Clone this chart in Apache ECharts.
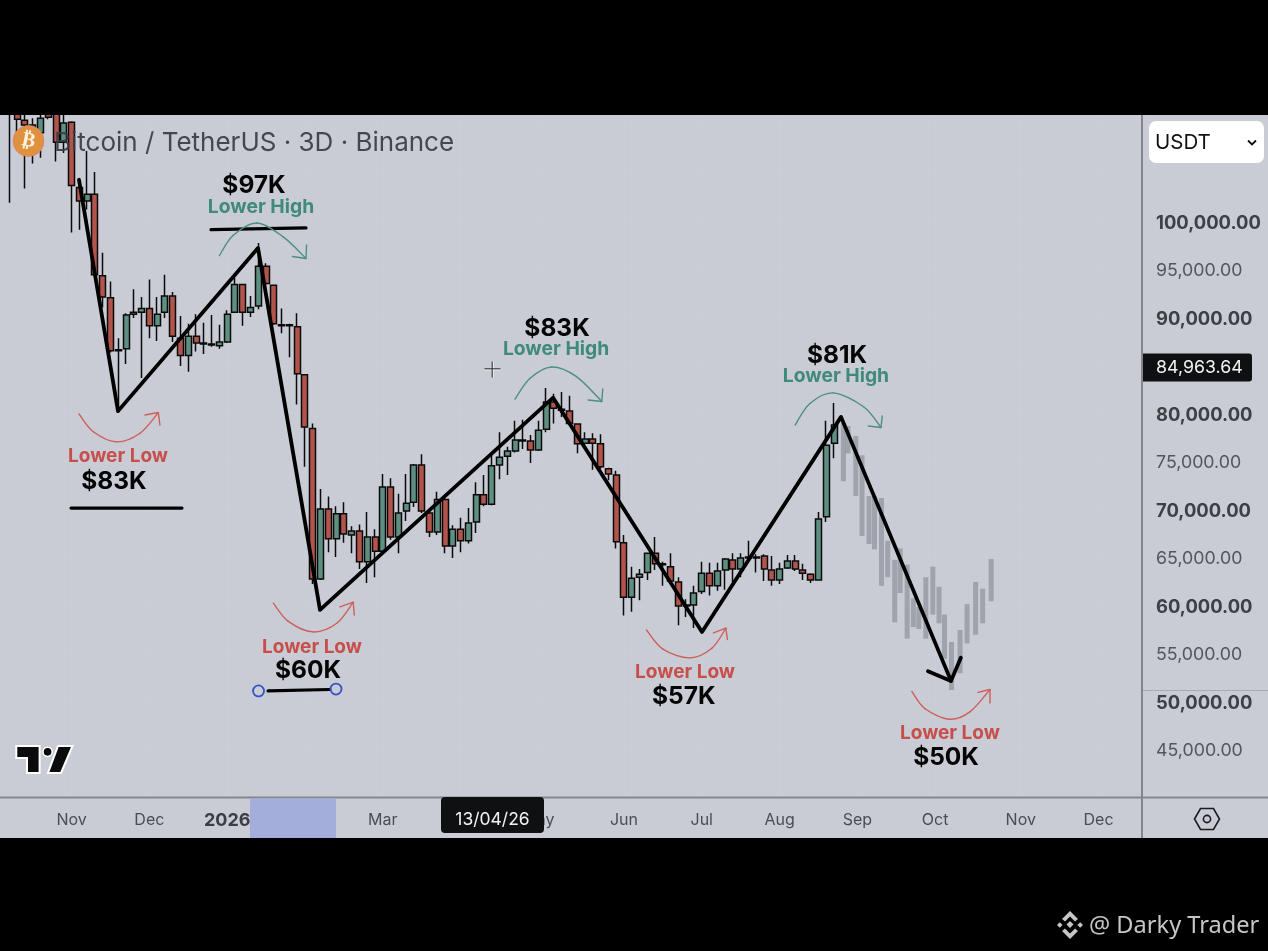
<!DOCTYPE html>
<html>
<head>
<meta charset="utf-8">
<style>html,body{margin:0;padding:0;background:#000;}#c{width:1268px;height:951px;}</style>
<script src="https://cdn.jsdelivr.net/npm/echarts@6/dist/echarts.min.js"></script>
</head>
<body>
<div id="c"></div>
<script>
// Candles, in thousands of USD, one every three days
const firstDate = '2025-10-06';
const openK  = [113,113,111.7,110.6,108.5,109.3,111.4,113,108.3,110.4,103.6,102.2,102.9,94.4,92.1,86.7,86.8,90.6,90.6,91.0,89.2,90.6,92.3,87.9,86.1,88.1,87.4,87.3,87.1,87.5,90.6,93.5,90.6,91.25,95.4,93.4,89.3,89.3,89.1,84.1,78.5,62.8,70.1,67.0,69.6,67.4,67.8,64.6,67.2,65.7,72.4,67.2,69.9,70.8,74.7,69.7,67.7,71.1,66.25,68.0,66.8,68.75,71.6,70.6,74.7,75.6,76.15,77.2,77.2,76.25,78.4,81.25,80.5,80.3,78.95,76.95,77.4,76.9,74.3,73.65,66.6,60.9,63.0,63.5,65.5,64.4,64.1,62.5,60.0,60.1,61.5,63.4,62.1,63.75,64.8,63.85,65.0,65.1,65.2,63.75,62.7,63.95,64.7,63.75,63.3,62.7,69.3,76.95];
const closeK = [112.5,112.2,110.7,110.1,110.1,110.8,110.9,108.3,110.3,103.8,102.2,102.9,94.5,92.2,86.6,86.6,90.3,90.4,91.0,89.2,90.4,92.3,88.1,86.1,88.1,87.4,87.3,87.2,87.5,90.4,93.5,90.6,91.1,95.4,93.6,89.4,89.2,89.2,84.2,78.65,62.8,70.1,67.0,69.6,67.5,67.8,64.6,67.2,65.7,72.4,67.2,69.7,70.7,74.7,69.9,67.7,71.1,66.25,68.0,66.8,68.65,71.6,70.6,74.6,75.5,76.15,77.3,77.3,76.25,78.3,81.25,80.6,80.4,79.0,76.9,77.4,76.95,74.5,73.75,66.7,60.9,62.9,63.3,65.5,64.4,64.3,62.6,60.0,60.1,61.35,63.4,62.1,63.65,64.9,63.85,65.0,65.1,65.0,63.85,62.7,63.85,64.7,63.85,63.4,62.7,69.05,76.75,78.85];
const lowK   = [112,102.0,109.1,103.5,106.1,106.7,110.7,106.3,107.2,98.9,99.2,101.3,94.4,91.1,86.4,80.6,85.2,90.0,83.75,87.9,87.6,90.0,87.5,85.0,84.4,86.5,86.25,87.0,86.8,87.4,90.6,89.2,90.1,90.9,93.4,89.3,88.4,85.9,81.0,74.5,62.3,62.7,65.6,65.1,66.6,65.5,63.85,62.4,63.0,65.6,66.9,65.5,68.85,70.3,69.7,67.2,67.4,65.5,65.0,65.6,66.5,67.6,70.4,70.5,73.2,73.65,76.0,76.35,74.9,76.15,78.1,79.0,79.7,78.85,75.9,76.8,74.2,74.3,73.1,66.0,59.0,59.4,60.6,62.7,63.75,62.1,62.5,58.0,58.85,57.7,61.25,61.1,61.6,61.7,62.5,63.0,64.9,63.5,62.6,62.1,62.3,63.85,63.65,62.7,62.4,62.7,68.75,75.4];
const highK  = [114,114,113,112,110.8,112,112.5,114,112,110.5,103.9,107.4,105.2,96.8,93.8,87.9,90.5,93.0,92.2,94.0,92.2,94.5,92.7,90.2,89.4,90.4,89.5,90.3,89.3,90.8,94.2,93.5,92.3,97.8,95.7,93.4,91.0,89.4,90.5,84.1,79.0,72.2,71.4,70.4,70.8,68.3,68.5,69.8,68.0,73.75,73.3,71.7,73.75,74.8,75.8,69.9,71.9,71.4,68.4,69.2,70.2,72.9,73.65,75.7,78.1,76.6,79.3,79.4,77.8,79.3,82.7,82.1,82.3,81.9,79.0,78.1,78.0,77.9,74.4,74.1,67.4,64.1,63.85,65.5,67.2,64.6,65.5,63.0,60.7,62.1,64.6,64.5,64.5,65.0,65.5,65.5,66.8,65.4,65.4,65.2,64.5,65.3,65.3,64.4,63.4,69.8,79.3,81.15];

// Projected path (grey bars): position in candle units, top and bottom in thousands of USD
const ghostPos = [108.2,108.8,109.8,110.6,111.5,112.2,113.1,113.9,114.8,115.5,116.4,117.2,117.9,118.8,119.7,120.5,121.2,122.1,123.2,124.1,125.2,126.1,127.2];
const ghostTop = [79.06,78.75,77.7,75.7,71.45,71.45,71.25,66.8,64.8,66.0,64.3,60.8,59.9,63.0,64.1,62.0,59.1,56.25,57.5,60.2,62.5,61.8,64.9];
const ghostBot = [73.0,75.9,71.45,67.3,66.45,65.9,62.1,63.0,58.3,61.35,56.6,57.8,57.6,56.6,59.1,58.2,54.5,51.25,53.0,56.1,57.0,58.2,60.5];

// Zigzag pivots
const pivotPos = [9.95,14.97,32.96,40.93,70.9,90.03,107.9,122.04];
const pivotK   = [104.4,80.3,97.3,59.6,81.7,57.3,79.7,52.2];
const arrowPos = [119.08,122.04,123.3];
const arrowK   = [53.2,52.2,54.6];

// Underlines and end handles
const underlines = [
  [[26.92,99.2],[39.13,99.38]],
  [[8.93,70.2],[23.19,70.2]],
  [[34.25,51.15],[42.2,51.3]]
];
const handles = [[33.03,51.15],[42.99,51.35]];

// Hand-drawn arcs and their arrow heads
const redArcs = [
  [[9.95,80.0],[11.8,78.15],[14.8,77.1],[17.8,78.0],[20.15,80.15]],
  [[34.93,60.3],[36.86,58.4],[40.07,57.3],[43.08,58.2],[45.2,60.4]],
  [[82.9,57.5],[85.0,55.5],[88.5,54.6],[91.3,55.6],[93.1,57.7]],
  [[117.0,51.1],[118.7,49.3],[121.9,48.2],[124.5,49.0],[127.05,51.3]]
];
const redHeads = [
  [[18.44,79.9],[20.15,80.15],[20.36,78.85]],
  [[43.5,59.9],[45.2,60.4],[45.34,59.06]],
  [[91.5,57.2],[93.1,57.7],[93.3,56.5]],
  [[125.5,51.0],[127.05,51.3],[127.05,49.9]]
];
const greenArcs = [
  [[28.0,96.5],[29.75,98.6],[32.8,99.9],[36.2,98.45],[39.13,96.2]],
  [[66.0,81.56],[67.9,83.7],[70.7,84.9],[73.9,83.9],[77.15,81.3]],
  [[102.0,78.85],[103.9,81.1],[106.9,82.2],[110.8,80.75],[113.04,78.6]]
];
const greenHeads = [
  [[37.4,96.4],[39.13,96.2],[39.2,97.6]],
  [[75.4,81.46],[77.15,81.3],[77.27,82.6]],
  [[111.4,78.75],[113.04,78.6],[113.2,79.8]]
];

// Notes
const priceNotes = [['$97K',32.45,103.85],['$83K',14.45,73.1],['$60K',39.4,53.4],['$83K',71.4,88.96],['$57K',87.7,50.7],['$81K',107.4,86.15],['$50K',121.4,44.3]];
const highNotes  = [['Lower High',33.35,101.56],['Lower High',71.27,86.7],['Lower High',107.25,83.96]];
const lowNotes   = [['Lower Low',14.97,75.6],['Lower Low',39.9,55.8],['Lower Low',87.85,53.1],['Lower Low',121.9,46.8]];

// Axis labels
const monthIndex  = [9,19,29,39,49,59,69,80,90,100,110,120,131,141];
const monthLabels = ['Nov','Dec','2026','Feb','Mar','Apr','May','Jun','Jul','Aug','Sep','Oct','Nov','Dec'];
const priceTicks  = [45000,50000,55000,60000,65000,70000,75000,80000,90000,95000,100000];
const boldPrices  = [50000,60000,70000,80000,90000,100000];

const title = 'Bitcoin / TetherUS \u00b7 3D \u00b7 Binance';
const lastPrice = '84,963.64';
const crosshairDate = '13/04/26';
const currency = 'USDT';
const watermark = '@ Darky Trader';

const BANDS = 148;
const categories = [];
for (let i = 0; i < BANDS; i++) {
  const d = new Date(firstDate + 'T00:00:00Z');
  d.setUTCDate(d.getUTCDate() + i * 3);
  categories.push(d.toISOString().slice(0, 10));
}
const usd = k => Math.round(k * 1000);
const UI_FONT = 'Inter, "Noto Sans", sans-serif';

const candleData = openK.map((o, i) => [usd(o), usd(closeK[i]), usd(lowK[i]), usd(highK[i])]);
const ghostData = ghostPos.map((p, i) => [p, usd(ghostTop[i]), usd(ghostBot[i])]);

const toLine = pts => pts.map(p => [p[0], usd(p[1])]);
const lineSeries = (pts, color, width, z) => ({
  type: 'line', xAxisIndex: 1, data: toLine(pts), showSymbol: false, symbol: 'none',
  lineStyle: {color: color, width: width, cap: 'round', join: 'round'}, z: z, silent: true, animation: false
});
// A curve through the arc's points, one cubic piece per data item
const arcSeries = (pts, color, width, z) => {
  const data = toLine(pts);
  return {
    type: 'custom', xAxisIndex: 1, data: data, z: z, silent: true, encode: {x: 0, y: 1},
    renderItem: (params, api) => {
      const i = params.dataIndex;
      if (i >= data.length - 1) return null;
      const c = data.map(d => api.coord(d));
      const p0 = c[Math.max(i - 1, 0)], p1 = c[i], p2 = c[i + 1], p3 = c[Math.min(i + 2, c.length - 1)];
      return {type: 'bezierCurve', shape: {
        x1: p1[0], y1: p1[1], x2: p2[0], y2: p2[1],
        cpx1: p1[0] + (p2[0] - p0[0]) / 6, cpy1: p1[1] + (p2[1] - p0[1]) / 6,
        cpx2: p2[0] - (p3[0] - p1[0]) / 6, cpy2: p2[1] - (p3[1] - p1[1]) / 6
      }, style: {stroke: color, lineWidth: width, fill: null, lineCap: 'round'}};
    }
  };
};
const noteSeries = (notes, color, size, weight, dy) => ({
  type: 'scatter', xAxisIndex: 1, symbolSize: 0, z: 20, silent: true,
  itemStyle: {opacity: 1},
  data: notes.map(n => ({value: [n[1], usd(n[2])], name: n[0]})),
  label: {show: true, position: 'inside', offset: [0, dy], formatter: p => p.name, color: color, opacity: 1,
          textBorderWidth: 0, textBorderColor: 'transparent', textShadowBlur: 0,
          fontFamily: UI_FONT, fontSize: size, fontWeight: weight}
});

const RED = '#c74f4b', GREEN = '#3f8a7a';
const series = [
  {type: 'custom', xAxisIndex: 1, data: ghostData, z: 3, silent: true, clip: true,
   encode: {x: 0, y: [1, 2]},
   renderItem: (params, api) => {
     const a = api.coord([api.value(0) - 0.32, api.value(1)]);
     const b = api.coord([api.value(0) + 0.32, api.value(2)]);
     return {type: 'rect', shape: {x: a[0], y: a[1], width: b[0] - a[0], height: b[1] - a[1]},
             style: {fill: 'rgba(118,122,132,0.5)'}};
   }},
  {type: 'candlestick', xAxisIndex: 0, data: candleData, barWidth: 6.5, z: 5, silent: true, clip: true,
   itemStyle: {color: '#5e8f81', color0: '#b2544c', borderColor: '#0a0a0a', borderColor0: '#0a0a0a', borderColorDoji: '#0a0a0a', borderWidth: 1.5}},
  lineSeries(pivotPos.map((p, i) => [p, pivotK[i]]), '#000', 3.8, 10),
  lineSeries(arrowPos.map((p, i) => [p, arrowK[i]]), '#000', 3.8, 10)
];
underlines.forEach(u => series.push(lineSeries(u, '#000', 3.2, 10)));
redArcs.forEach(a => series.push(arcSeries(a, '#cf5f5a', 1.4, 11)));
redHeads.forEach(a => series.push(lineSeries(a, '#cf5f5a', 1.4, 11)));
greenArcs.forEach(a => series.push(arcSeries(a, '#4c8f80', 1.4, 11)));
greenHeads.forEach(a => series.push(lineSeries(a, '#4c8f80', 1.4, 11)));
series.push({type: 'scatter', xAxisIndex: 1, data: toLine(handles), symbol: 'circle', symbolSize: 11, z: 12, silent: true,
  itemStyle: {color: 'rgba(0,0,0,0)', borderColor: '#3453c6', borderWidth: 1.8, opacity: 1}});
series.push(noteSeries(priceNotes, '#050505', 24.5, 700, 1));
series.push(noteSeries(highNotes, GREEN, 19.3, 700, 0));
series.push(noteSeries(lowNotes, RED, 19, 700, 0.5));

const TOP = 50;
const seg = (x1, y1, x2, y2, color, w, z) => ({type: 'line', shape: {x1, y1, x2, y2}, style: {stroke: color, lineWidth: w}, z: z || TOP, silent: true});
const graphics = [
  {type: 'rect', shape: {x: 0, y: 115, width: 1268, height: 723}, style: {fill: '#c9ccd4'}, z: -1, silent: true},
  {type: 'rect', shape: {x: 0, y: 0, width: 1268, height: 115}, style: {fill: '#000'}, z: TOP, silent: true},
  seg(1142, 115, 1142, 838, '#84868c', 2, 6),
  seg(0, 797.5, 1268, 797.5, '#84868c', 2, 6),
  seg(1143, 690.5, 1268, 690.5, '#a9abb2', 1, 6),
  // selected range on the time axis
  {type: 'rect', shape: {x: 250, y: 798.5, width: 86, height: 39.5}, style: {fill: '#a3aedb'}, z: TOP, silent: true},
  // crosshair date
  {type: 'rect', shape: {x: 441, y: 797, width: 103, height: 36, r: 4}, style: {fill: '#0f1011'}, z: TOP, silent: true},
  {type: 'text', x: 492.5, y: 819.5, z: TOP + 1, silent: true, style: {text: crosshairDate, fill: '#f2f2f2', font: '17.5px ' + UI_FONT, align: 'center', verticalAlign: 'middle'}},
  // crosshair
  seg(484.5, 369.8, 500.5, 369.8, 'rgba(255,255,255,0.8)', 1),
  seg(493.2, 361.5, 493.2, 377.5, 'rgba(255,255,255,0.8)', 1),
  seg(484.5, 368.8, 500.5, 368.8, '#2a2a2a', 1),
  seg(492.2, 361.5, 492.2, 377.5, '#2a2a2a', 1),
  // last price tag
  {type: 'rect', shape: {x: 1143, y: 353.5, width: 109, height: 28, r: [0, 3, 3, 0]}, style: {fill: '#0f1011'}, z: TOP, silent: true},
  {type: 'text', x: 1156, y: 367.5, z: TOP + 1, silent: true, style: {text: lastPrice, fill: '#f2f2f2', font: '17.8px ' + UI_FONT, align: 'left', verticalAlign: 'middle'}},
  // currency selector
  {type: 'rect', shape: {x: 1149, y: 121, width: 115, height: 42, r: 7}, style: {fill: '#ffffff'}, z: TOP, silent: true},
  {type: 'text', x: 1155, y: 143, z: TOP + 1, silent: true, style: {text: currency, fill: '#111', font: '20.5px ' + UI_FONT, align: 'left', verticalAlign: 'middle'}},
  {type: 'polyline', shape: {points: [[1248, 140.5], [1252, 144.5], [1256, 140.5]]}, style: {stroke: '#111', fill: null, lineWidth: 1.8}, z: TOP + 1, silent: true},
  // coin badge
  {type: 'circle', shape: {cx: 28.5, cy: 141, r: 15.5}, style: {fill: '#e0913e', stroke: '#d9807a', lineWidth: 0.8}, z: TOP, silent: true},
  {type: 'text', x: 28.5, y: 141, rotation: -0.2, z: TOP + 1, silent: true, style: {text: '\u20bf', fill: '#fff2e2', font: 'bold 20px "DejaVu Sans"', align: 'center', verticalAlign: 'middle'}},
  // platform logo
  {type: 'polygon', shape: {points: [[16.3, 746], [39.6, 746], [39.6, 773], [27, 773], [27, 758], [16.3, 758]]}, style: {fill: '#0b0b0b', stroke: '#fff', lineWidth: 2}, z: TOP, silent: true},
  {type: 'polygon', shape: {points: [[58, 746], [72.5, 746], [61, 773], [48, 773]]}, style: {fill: '#0b0b0b', stroke: '#fff', lineWidth: 2}, z: TOP, silent: true},
  {type: 'circle', shape: {cx: 47.6, cy: 751.8, r: 4.6}, style: {fill: '#0b0b0b', stroke: '#fff', lineWidth: 1.5}, z: TOP, silent: true},
  // settings glyph
  {type: 'polygon', shape: {points: [[1194.5, 819], [1200.5, 808.5], [1213.5, 808.5], [1219.5, 819], [1213.5, 829.5], [1200.5, 829.5]]}, style: {fill: null, stroke: '#1c1c1e', lineWidth: 1.6}, z: TOP, silent: true},
  {type: 'circle', shape: {cx: 1207, cy: 819, r: 3.6}, style: {fill: null, stroke: '#1c1c1e', lineWidth: 1.6}, z: TOP, silent: true},
  // watermark
  {type: 'text', x: 1089, y: 926.5, z: TOP, silent: true, style: {text: watermark, fill: '#c6c6c8', font: '23.6px "Noto Sans", sans-serif', align: 'left', verticalAlign: 'middle'}}
];
[[[1070, 921], [1073.5, 924.5], [1070, 928], [1066.5, 924.5]],
 [[1057, 925], [1059.8, 922.2], [1062.6, 925], [1059.8, 927.8]],
 [[1077.4, 925], [1080.2, 922.2], [1083, 925], [1080.2, 927.8]],
 [[1070, 911], [1078, 919], [1075, 921.6], [1070, 916.6], [1065, 921.6], [1062, 919]],
 [[1070, 939], [1078, 931], [1075, 928.4], [1070, 933.4], [1065, 928.4], [1062, 931]]
].forEach(points => graphics.push({type: 'polygon', shape: {points}, style: {fill: '#c6c6c8'}, z: TOP, silent: true}));

const option = {
  backgroundColor: '#000',
  animation: false,
  textStyle: {fontFamily: UI_FONT},
  title: {text: title, left: 49, top: 125, z: 30,
          textStyle: {fontFamily: UI_FONT, fontSize: 26, fontWeight: 400, color: 'rgba(58,60,66,0.92)'}},
  grid: {left: 1.56, width: 1143.66, top: 115, height: 683, containLabel: false},
  xAxis: [
    {type: 'category', data: categories, boundaryGap: false, position: 'bottom',
     axisLine: {show: false}, axisTick: {show: false},
     splitLine: {show: true, interval: i => monthIndex.includes(i), lineStyle: {color: 'rgba(255,255,255,0.05)', width: 1}},
     axisLabel: {show: true, interval: i => monthIndex.includes(i), margin: 14, hideOverlap: false,
       formatter: (v, i) => {
         const m = monthLabels[monthIndex.indexOf(i)] || '';
         return m === '2026' ? '{b|' + m + '}' : '{n|' + m + '}';
       },
       rich: {n: {fontFamily: UI_FONT, fontSize: 16, color: '#4b4d53'},
              b: {fontFamily: UI_FONT, fontSize: 18, fontWeight: 700, color: '#3c3e44'}}}},
    {type: 'value', min: 0, max: BANDS - 1, show: false, position: 'bottom', splitLine: {show: false}}
  ],
  yAxis: {type: 'value', position: 'right', min: 40000, max: 111146, interval: 5000, scale: true,
    axisLine: {show: false}, axisTick: {show: false},
    splitLine: {show: true, lineStyle: {color: 'rgba(255,255,255,0.05)', width: 1}},
    axisLabel: {show: true, inside: false, margin: 10.8, align: 'left', hideOverlap: false,
      formatter: v => {
        if (!priceTicks.includes(v)) return '';
        const s = v.toLocaleString('en-US') + '.00';
        return boldPrices.includes(v) ? '{b|' + s + '}' : '{n|' + s + '}';
      },
      rich: {n: {fontFamily: UI_FONT, fontSize: 17.8, color: '#54565c', padding: [2, 0, 0, 0]},
             b: {fontFamily: UI_FONT, fontSize: 18.4, fontWeight: 700, color: '#3e4046', padding: [2, 0, 0, 0]}}}},
  graphic: {elements: graphics},
  series: series
};
const chart = echarts.init(document.getElementById('c'), null, {renderer: 'canvas', width: 1268, height: 951});
chart.setOption(option);
</script>
</body>
</html>
